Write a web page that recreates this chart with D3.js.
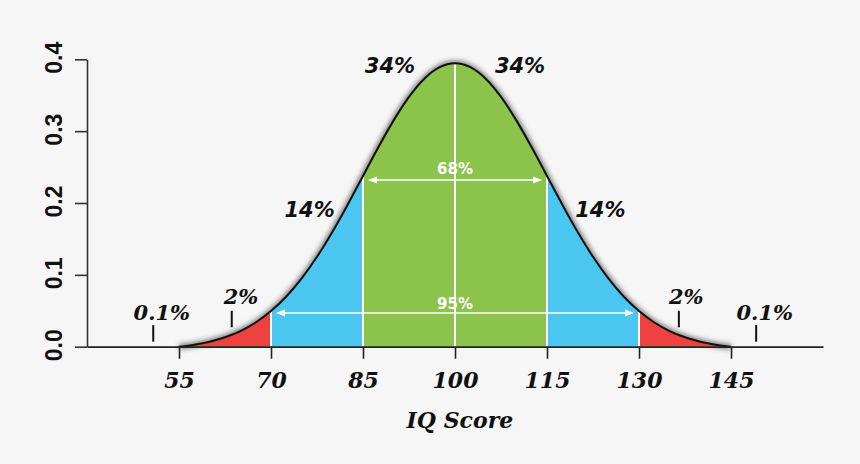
<!DOCTYPE html>
<html>
<head>
<meta charset="utf-8">
<script src="https://cdn.jsdelivr.net/npm/d3@7"></script>
<style>
  html, body { margin: 0; padding: 0; background: #f6f6f6; }
  svg { display: block; }
</style>
</head>
<body>
<svg id="chart" width="860" height="464"></svg>
<script>
// ---- data ----
const iqScores = [55, 57.5, 60, 62.5, 65, 67.5, 70, 72.5, 75, 77.5, 80, 82.5, 85, 87.5, 90, 92.5, 95, 97.5,
                  100, 102.5, 105, 107.5, 110, 112.5, 115, 117.5, 120, 122.5, 125, 127.5, 130, 132.5, 135, 137.5, 140, 142.5, 145];
const densities = [0.0000, 0.0028, 0.0070, 0.0131, 0.0218, 0.0337, 0.0496, 0.0699, 0.0951, 0.1251, 0.1596, 0.1976, 0.2376, 0.2775, 0.3150, 0.3477, 0.3730, 0.3890,
                   0.3945, 0.3890, 0.3730, 0.3477, 0.3150, 0.2775, 0.2376, 0.1976, 0.1596, 0.1251, 0.0951, 0.0699, 0.0496, 0.0337, 0.0218, 0.0131, 0.0070, 0.0028, 0.0000];
const bandEdges = [55, 70, 85, 100, 115, 130, 145];
const bandNames = ["tail", "sd2", "sd1", "sd1", "sd2", "tail"];
const xTicks = [55, 70, 85, 100, 115, 130, 145];
const yTicks = [0.0, 0.1, 0.2, 0.3, 0.4];
const pctLabels = ["0.1%", "2%", "14%", "34%", "34%", "14%", "2%", "0.1%"];
const pctAtX = [52.2, 65.1, 76.3, 89.4, 110.6, 123.7, 137.7, 150.5];
const pctAtY = [0.037, 0.059, 0.180, 0.381, 0.381, 0.180, 0.059, 0.037];
const smallTickX = [50.8, 63.6, 136.5, 149.1];
const smallTickTop = [0.030, 0.050, 0.050, 0.030];
const smallTickBottom = [0.007, 0.027, 0.027, 0.007];
const rangeLabels = ["68%", "95%"];
const rangeFrom = [85, 70];
const rangeTo = [115, 130];
const rangeArrowY = [0.232, 0.047];
const rangeTextY = [0.240, 0.0525];

// ---- layout ----
const colors = { tail: "#ee4240", sd2: "#4ac6f1", sd1: "#8cc34b" };
const svg = d3.select("#chart");
const x = d3.scaleLinear().domain([40, 160]).range([87, 823]);
const y = d3.scaleLinear().domain([0, 0.4]).range([346.7, 59.3]);
const pts = iqScores.map((s, i) => ({ s, d: densities[i] }));

const defs = svg.append("defs");
defs.append("filter").attr("id", "blur").attr("x", "-10%").attr("y", "-10%").attr("width", "120%").attr("height", "130%")
  .append("feGaussianBlur").attr("stdDeviation", 2.6);
const mk = defs.append("marker").attr("id", "arrow").attr("viewBox", "0 0 10 10")
  .attr("refX", 9).attr("refY", 5)
  .attr("orient", "auto-start-reverse").attr("markerUnits", "userSpaceOnUse")
  .attr("markerWidth", 9).attr("markerHeight", 9);
mk.append("path").attr("d", "M0,1 L10,5 L0,9 Z").attr("fill", "#fff");

bandNames.forEach((n, i) => {
  defs.append("clipPath").attr("id", "band" + i).append("rect")
    .attr("x", x(bandEdges[i])).attr("width", x(bandEdges[i + 1]) - x(bandEdges[i]))
    .attr("y", 0).attr("height", 464);
});

const line = d3.line().x(p => x(p.s)).y(p => y(p.d)).curve(d3.curveMonotoneX);
const area = d3.area().x(p => x(p.s)).y0(y(0)).y1(p => y(p.d)).curve(d3.curveMonotoneX);

// shadow
svg.append("path").datum(pts).attr("d", line).attr("fill", "none")
  .attr("stroke", "#000").attr("stroke-opacity", 0.55).attr("stroke-width", 5)
  .attr("filter", "url(#blur)");

// colored bands
bandNames.forEach((n, i) => {
  svg.append("path").datum(pts).attr("d", area).attr("fill", colors[n])
    .attr("clip-path", "url(#band" + i + ")");
});

// white dividers
const densityAt = s => densities[iqScores.indexOf(s)];
svg.append("g").selectAll("line").data(bandEdges.slice(1, -1)).join("line")
  .attr("x1", d => x(d)).attr("x2", d => x(d))
  .attr("y1", y(0)).attr("y2", d => y(densityAt(d)) + 1)
  .attr("stroke", "#fff").attr("stroke-width", 2);

// range arrows
rangeLabels.forEach((t, i) => {
  svg.append("line")
    .attr("x1", x(rangeFrom[i]) + 6).attr("x2", x(rangeTo[i]) - 6)
    .attr("y1", y(rangeArrowY[i])).attr("y2", y(rangeArrowY[i]))
    .attr("stroke", "#fff").attr("stroke-width", 1.5)
    .attr("marker-start", "url(#arrow)").attr("marker-end", "url(#arrow)");
  svg.append("text").attr("x", x(100)).attr("y", y(rangeTextY[i]))
    .attr("text-anchor", "middle").attr("fill", "#fff")
    .attr("font-family", "DejaVu Sans").attr("font-weight", "bold").attr("font-size", 15)
    .text(t);
});

// curve
svg.append("path").datum(pts).attr("d", line).attr("fill", "none")
  .attr("stroke", "#111").attr("stroke-width", 2);

// axes
const yAxis = svg.append("g").attr("transform", `translate(${x(40)},0)`)
  .call(d3.axisLeft(y).tickValues(yTicks).tickSize(12).tickSizeOuter(0).tickFormat(d3.format(".1f")));
yAxis.select(".domain").attr("stroke", "#333").attr("stroke-width", 1.6);
yAxis.selectAll(".tick line").attr("stroke", "#333").attr("stroke-width", 1.6);
yAxis.selectAll(".tick text")
  .attr("x", null).attr("dy", null)
  .attr("transform", "translate(-25,-2) rotate(-90)")
  .attr("text-anchor", "middle")
  .attr("font-family", "Liberation Sans").attr("font-weight", "bold").attr("font-size", 23)
  .attr("fill", "#111");

const xAxis = svg.append("g").attr("transform", `translate(0,${y(0)})`)
  .call(d3.axisBottom(x).tickValues(xTicks).tickSize(12).tickSizeOuter(0));
xAxis.select(".domain").attr("stroke", "#222").attr("stroke-width", 1.8);
xAxis.selectAll(".tick line").attr("stroke", "#222").attr("stroke-width", 1.6);
xAxis.selectAll(".tick text")
  .attr("y", 41).attr("dy", null)
  .attr("font-family", "DejaVu Serif").attr("font-weight", "bold").attr("font-style", "italic")
  .attr("font-size", 22).attr("fill", "#111");

svg.append("text").attr("x", x(100.8)).attr("y", 428).attr("text-anchor", "middle")
  .attr("font-family", "DejaVu Serif").attr("font-weight", "bold").attr("font-style", "italic")
  .attr("font-size", 22).attr("fill", "#111").text("IQ Score");

// small tick marks
svg.append("g").selectAll("line").data(smallTickX).join("line")
  .attr("x1", d => x(d)).attr("x2", d => x(d))
  .attr("y1", (d, i) => y(smallTickTop[i])).attr("y2", (d, i) => y(smallTickBottom[i]))
  .attr("stroke", "#111").attr("stroke-width", 2);

// percentage labels
const bigPct = d => d === "34%" || d === "14%";
svg.append("g").selectAll("text").data(pctLabels).join("text")
  .attr("x", (d, i) => x(pctAtX[i])).attr("y", (d, i) => y(pctAtY[i]))
  .attr("text-anchor", "middle")
  .attr("font-family", d => bigPct(d) ? "DejaVu Sans" : "DejaVu Serif")
  .attr("font-weight", "bold").attr("font-style", "italic")
  .attr("font-size", 21)
  .attr("fill", "#111")
  .text(d => d);
</script>
</body>
</html>
